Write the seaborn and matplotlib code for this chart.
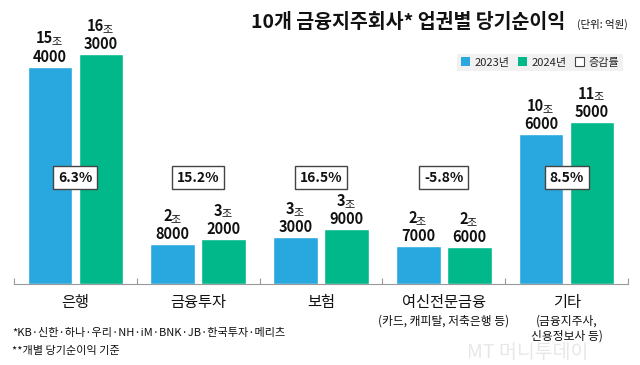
import pandas as pd
import numpy as np
from matplotlib import pyplot as plt
from matplotlib.patches import Patch
import seaborn as sns

# data (억원)
categories = ['은행', '금융투자', '보험', '여신전문금융', '기타']
sub_labels = ['', '', '', '(카드, 캐피탈, 저축은행 등)', '(금융지주사,\n신용정보사 등)']
years = ['2023년', '2024년']
profit_2023 = [154000, 28000, 33000, 27000, 106000]
profit_2024 = [163000, 32000, 39000, 26000, 115000]
growth = [6.3, 15.2, 16.5, -5.8, 8.5]

df = pd.DataFrame({
    'category': categories * 2,
    'year': [years[0]] * 5 + [years[1]] * 5,
    'profit': profit_2023 + profit_2024,
})

sns.set_theme(style='white')
plt.rcParams['font.family'] = ['Noto Sans CJK KR', 'DejaVu Sans']

blue = '#29a8e0'
green = '#00b88a'

fig = plt.figure(figsize=(6.4, 3.65), dpi=100)
ax = fig.add_axes([14/640, (365-284)/365, 614/640, 264/365])

sns.barplot(data=df, x='category', y='profit', hue='year', hue_order=years,
            palette=[blue, green], width=0.83, gap=0.127, legend=False,
            saturation=1, ax=ax)

ax.set_xlim(-0.5, 4.5)
ax.set_ylim(0, 187000)
ax.set_xlabel('')
ax.set_ylabel('')
ax.set_yticks([])
ax.set_xticks([])
ax.set_xticks(np.arange(-0.5, 5, 1), minor=True)
ax.tick_params(axis='x', which='minor', direction='in', length=4, color='#999999',
               width=0.8, bottom=True)
for s in ['top', 'right', 'left']:
    ax.spines[s].set_visible(False)
ax.spines['bottom'].set_color('#999999')
ax.spines['bottom'].set_linewidth(0.8)

# value labels above bars ("15조" with small 조, then "4000")
for cont in ax.containers:
    for bar in cont:
        v = int(round(bar.get_height()))
        cx = bar.get_x() + bar.get_width() / 2
        top = bar.get_height()
        ax.annotate(f'{v % 10000:04d}', (cx, top), xytext=(0, 1.5), textcoords='offset points',
                    ha='center', va='bottom', fontsize=10.5, fontweight='bold', color='#111111')
        jo = str(v // 10000)
        split = (len(jo) * 6.0 - 7.5) / 2
        ax.annotate(jo, (cx, top), xytext=(split, 14.5), textcoords='offset points',
                    ha='right', va='bottom', fontsize=10.5, fontweight='bold', color='#111111')
        ax.annotate('조', (cx, top), xytext=(split - 1.0, 14.5), textcoords='offset points',
                    ha='left', va='bottom', fontsize=8, color='#111111')

# growth boxes
for i, g in enumerate(growth):
    ax.text(i, 0.403, f'{g:.1f}%', transform=ax.get_xaxis_transform(), ha='center', va='center',
            fontsize=10, fontweight='bold', color='#111111',
            bbox=dict(boxstyle='square,pad=0.35', facecolor='white', edgecolor='#444444', linewidth=1))

# category labels
for i, (c, s) in enumerate(zip(categories, sub_labels)):
    ax.text(i, -0.07, c, transform=ax.get_xaxis_transform(), ha='center', va='center',
            fontsize=11, color='#111111')
    if s:
        ax.text(i, -0.115, s, transform=ax.get_xaxis_transform(), ha='center', va='top',
                fontsize=8.5, color='#111111', linespacing=1.25)

# title
fig.text(565/640, 1 - 22/365, '10개 금융지주회사* 업권별 당기순이익', ha='right', va='center',
         fontsize=14, fontweight='bold', color='#111111')
fig.text(628/640, 1 - 24/365, '(단위: 억원)', ha='right', va='center', fontsize=7.5, color='#111111')

# legend
handles = [Patch(facecolor=blue, edgecolor='none'), Patch(facecolor=green, edgecolor='none'),
           Patch(facecolor='white', edgecolor='#444444', linewidth=0.8)]
leg = fig.legend(handles, years + ['증감률'], ncol=3, loc='upper right',
                 bbox_to_anchor=(629/640, 1 - 48/365), frameon=True, fontsize=8,
                 handlelength=0.8, handleheight=0.8, handletextpad=0.4, columnspacing=0.8,
                 borderpad=0.35, fancybox=False)
leg.get_frame().set_facecolor('#eeeeee')
leg.get_frame().set_edgecolor('none')

# footnotes
fig.text(12/640, 1 - 333/365, '*KB·신한·하나·우리·NH·iM·BNK·JB·한국투자·메리츠', ha='left', va='center',
         fontsize=8, color='#111111')
fig.text(12/640, 1 - 351/365, '**개별 당기순이익 기준', ha='left', va='center',
         fontsize=8, color='#111111')

# watermark
fig.text(528/640, 1 - 352/365, 'MT 머니투데이', ha='center', va='center', fontsize=14,
         color='#d8d8d8', alpha=0.6, zorder=0)

plt.savefig('out.png', dpi=100)
